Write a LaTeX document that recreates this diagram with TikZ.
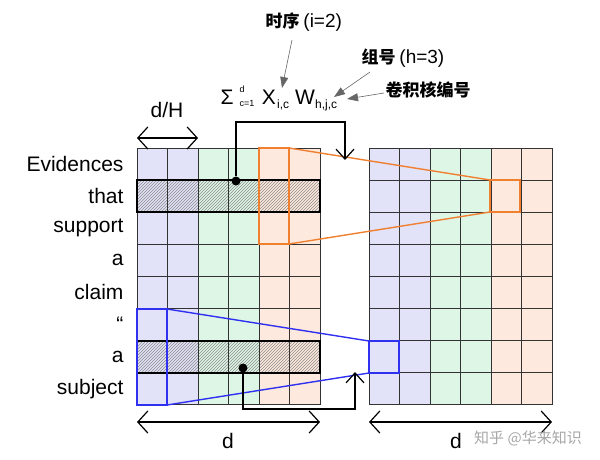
\documentclass[tikz,border=0pt]{standalone}
\usepackage{fontspec}
\setmainfont{Liberation Sans}
\newfontfamily\cjk{Noto Sans CJK SC}
\usetikzlibrary{patterns,arrows.meta}
\definecolor{cA}{HTML}{E2E2F8}
\definecolor{cB}{HTML}{DDF6E6}
\definecolor{cC}{HTML}{FDE9DD}
\definecolor{orng}{HTML}{F08030}
\definecolor{blu}{HTML}{3030F0}
\begin{document}
\begin{tikzpicture}[x=1pt,y=-1pt,
 word/.style={anchor=east,font=\fontsize{21}{23}\selectfont},
 lbl/.style={font=\fontsize{21}{23}\selectfont},
 sm/.style={font=\fontsize{9}{10}\selectfont,inner sep=0pt},
 sb/.style={font=\fontsize{12}{13}\selectfont,inner sep=0pt,anchor=north west},
 cj/.style={font=\cjk\bfseries\fontsize{17}{19}\selectfont},
 dbl/.style={{Straight Barb[length=10pt,width=22pt,line width=1.2pt]}-{Straight Barb[length=10pt,width=22pt,line width=1.2pt]},line width=1.2pt},
 grid/.style={draw=black!80,line width=0.9pt},
 conn/.style={line width=1.2pt,-{Straight Barb[length=10pt,width=18pt,line width=1.2pt]}},
 dot/.style={circle,fill=black,inner sep=0pt,minimum size=9pt},
 pt/.style={-{Triangle[length=11pt,width=8pt]},black!60,line width=0.6pt}]
\useasboundingbox (0,0) rectangle (600,460);
\foreach \gx in {137,369}{
  \fill[cA] (\gx,148) rectangle ++(61,257);
  \fill[cB] (\gx+61,148) rectangle ++(61,257);
  \fill[cC] (\gx+122,148) rectangle ++(61,257);
}
\foreach \ry in {180,341}{
  \fill[pattern=north east lines,pattern color=black!45] (137,\ry) rectangle (320,\ry+32);
}
\foreach \gx in {137,369}{
  \foreach \i in {0,...,6} \draw[grid] (\gx+\i*30.5,148) -- (\gx+\i*30.5,405);
  \foreach \j in {0,...,8} \draw[grid] (\gx,148+\j*32.1) -- (\gx+183,148+\j*32.1);
}
\draw[line width=1.5pt] (137,180) rectangle (320,212);
\draw[line width=1.5pt] (137,341) rectangle (320,373);
\draw[orng,line width=1.4pt] (259,148) rectangle (289,244);
\draw[orng,line width=1.4pt] (490,180) rectangle (520,212);
\coordinate (o1) at (289,148); \coordinate (o2) at (289,244);
\coordinate (o3) at (490,180); \coordinate (o4) at (490,212);
\draw[orng,line width=1.4pt] (o1) -- (o3) (o2) -- (o4);
\draw[blu,line width=1.4pt] (137,309) rectangle (167,405);
\draw[blu,line width=1.4pt] (369,341) rectangle (399,373);
\coordinate (b1) at (167,309); \coordinate (b2) at (167,405);
\coordinate (b3) at (369,341); \coordinate (b4) at (369,373);
\draw[blu,line width=1.4pt] (b1) -- (b3) (b2) -- (b4);
\node[dot] (d1) at (236,181) {};
\node[dot] (d2) at (243,368) {};
\coordinate (t1) at (345,160); \coordinate (t2) at (355,372);
\draw[conn] (d1) -- (236,122) -- (345,122) -- (t1);
\draw[conn] (d2) -- (243,409) -- (355,409) -- (t2);
\foreach \w [count=\k] in {Evidences,that,support,a,claim,“,a,subject}
  \node[word] at (127,164+\k*32.1-32.1) {\w};
\coordinate (h1) at (137,138); \coordinate (h2) at (198,138);
\draw[dbl] (h1) -- (h2);
\node[lbl] (dh) at (167,110) {d/H};
\coordinate (l1) at (137,422); \coordinate (l2) at (320,422);
\draw[dbl] (l1) -- (l2);
\node[lbl] (dl) at (228,441) {d};
\coordinate (r1) at (369,422); \coordinate (r2) at (552,422);
\draw[dbl] (r1) -- (r2);
\node[lbl] (dr) at (456,441) {d};
% formula
\node[lbl,inner sep=0pt] (sg) at (227,97) {Σ};
\node[sm] (sup) at (242,89) {d};
\node[sm] (sub) at (247,103) {c=1};
\node[lbl,inner sep=0pt] (x) at (269,97) {X};
\node[sb] (xs) at (277,100) {i,c};
\node[lbl,inner sep=0pt] (w) at (305,97) {W};
\node[sb] (ws) at (315,100) {h,j,c};
\node[cj,anchor=west] (ts) at (262,22) {时序\ \normalfont\fontsize{19}{21}\selectfont(i=2)};
\node[cj,anchor=west] (zh) at (358,58) {组号\ \normalfont\fontsize{19}{21}\selectfont(h=3)};
\node[cj,anchor=west] (jj) at (382,90) {卷积核编号};
\draw[pt] (292,40) -- (282,88);
\draw[pt] (370,72) -- (334,97);
\draw[pt] (384,93) -- (347,99);
\node[font=\cjk\fontsize{15}{16}\selectfont,text=black!35] (wm) at (528,438) {知乎 @华来知识};
\end{tikzpicture}
\end{document}
